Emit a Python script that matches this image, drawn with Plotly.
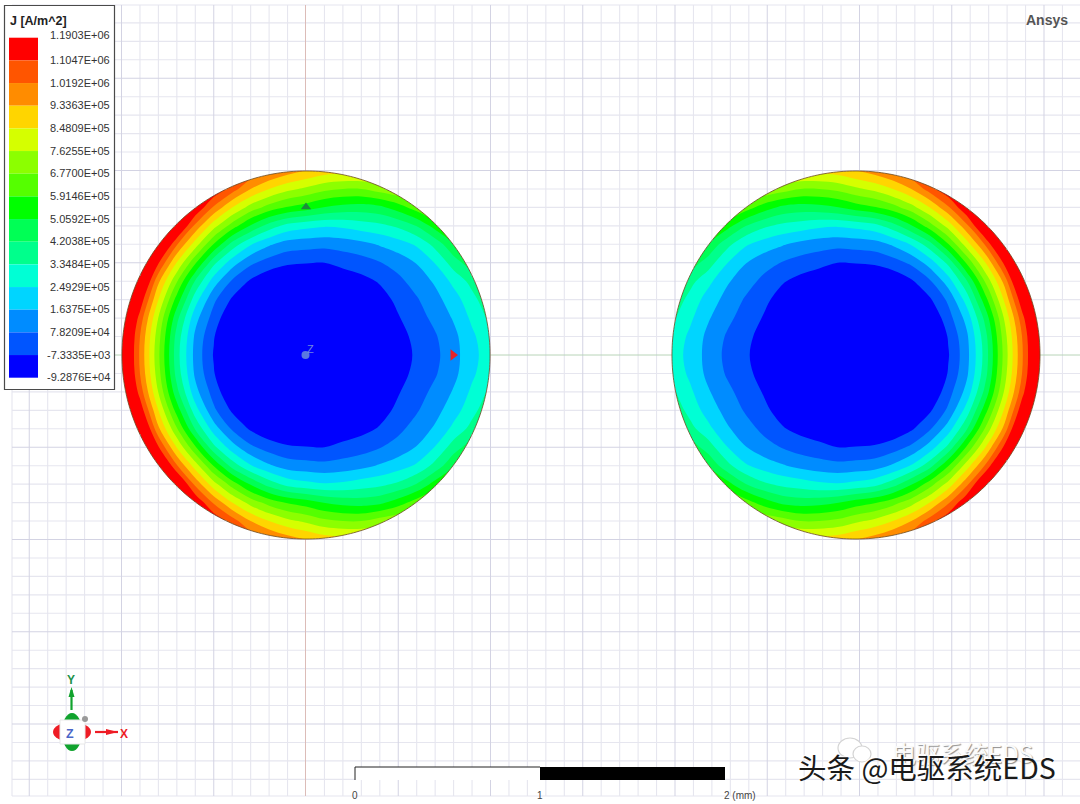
import numpy as np
import plotly.graph_objects as go

# ---------- data ----------
legend_title = "J [A/m^2]"
legend_labels = ["1.1903E+06", "1.1047E+06", "1.0192E+06", "9.3363E+05", "8.4809E+05", "7.6255E+05",
                 "6.7700E+05", "5.9146E+05", "5.0592E+05", "4.2038E+05", "3.3484E+05", "2.4929E+05",
                 "1.6375E+05", "7.8209E+04", "-7.3335E+03", "-9.2876E+04"]
band_colors = ["#0000ff", "#0055ff", "#008cff", "#00d5ff", "#00ffd5", "#00ff8c", "#00ff55", "#00ff00",
               "#55ff00", "#8cff00", "#d5ff00", "#ffd500", "#ff8c00", "#ff5500", "#ff0000"]
level_values = [float(s) for s in reversed(legend_labels)]

grid_mm = [-1.1, -1.0, -0.9, -0.8, -0.7, -0.6, -0.5, -0.4, -0.3, -0.2, -0.1, 0.0,
           0.1, 0.2, 0.3, 0.4, 0.5, 0.6, 0.7, 0.8, 0.9, 1.0, 1.1]
# Position on the legend scale (0 = lowest label, 15 = highest) for the left wire, rows y = 0 ... 1.1 mm.
# Nodes inside the lowest band or outside the wire only steer where the band edges fall.
wire_upper = [
 [17,16.4,12.85,9.2,5.4,2.65,.92,-.75,-2,-2,-2,-2,-1.5,-1.3,-.7,-.1,.52,1.15,1.75,2.65,3.65,4.6,5.5],
 [17,16.5,13,9.4,5.6,2.8,1.08,-.55,-2,-2,-2,-2,-2,-1.5,-.85,-.18,.6,1.3,1.9,2.72,3.8,4.75,5.7],
 [17,17,13.6,9.95,6.3,3.35,1.57,.04,-1.4,-2,-2,-2,-2,-1.7,-.6,.2,.92,1.6,2.25,3.1,4.2,5.25,6.4],
 [17,17,14.7,11,7.56,4.42,2.2,.85,-.32,-1.2,-1.8,-1.4,-1.25,-.8,-.2,.58,1.24,1.9,2.65,3.55,4.65,5.8,7],
 [17,17,16.2,12.2,9.1,5.9,3.5,1.86,.85,.2,-.12,-.17,-.1,.32,.67,1.1,1.75,2.42,3.15,4.27,5.35,6.55,8],
 [17,17,17,14.1,10.95,8.15,5.27,3.45,2.2,1.55,1.16,1.05,1.0,1.3,1.55,1.95,2.4,3.05,4.05,5.5,6.6,7.9,9.5],
 [17,17,17,16.3,13.1,10.5,7.95,5.6,4.08,3.14,2.55,2.4,2.3,2.45,2.7,3.1,3.55,4.15,5.35,6.85,8.3,9.5,11],
 [17,17,17,17,15.7,12.75,10.4,8.55,6.9,5.55,4.65,4.3,4.1,4.2,4.5,4.75,5.2,6.05,7.43,8.7,10,11,12],
 [17,17,17,17,16.5,15,12.85,11,9.6,8.6,7.9,7.5,6.95,6.65,6.55,6.75,7.5,8.5,9.5,10.6,12,13,14],
 [17,17,17,17,16.5,15.6,14.9,13.5,12,11,10.27,9.8,9.25,9,9,9.5,9.95,10.4,11.2,12,13,14,14.5],
 [17,17,17,16.5,16,15.5,15.2,14.7,13.9,13.2,12.5,12,11.55,11.4,11.4,11.5,12,12.5,13,13.5,14,14.5,14.5],
 [17,17,17,16.6,16.3,16,15.7,15.5,15.3,15,14.4,14,13.5,13.2,13,13,13.2,13.5,14,14,14.5,14.5,14.5],
]
second_wire_center_mm = 2.981
wire_radius_mm = 0.9975
scale_ticks = ["0", "1", "2 (mm)"]
watermark = "头条 @电驱系统EDS"
watermark_ghost = "电驱系统EDS"
brand = "Ansys"

# ---------- geometry ----------
W, H = 1080, 804
PX_PER_MM, X0, Y0 = 184.5, 306.0, 355.0
def mx(px): return (px - X0) / PX_PER_MM
def my(py): return (Y0 - py) / PX_PER_MM

u = np.array(wire_upper[::-1] + wire_upper[1:], dtype=float)
step = (level_values[-1] - level_values[0]) / 15
J = level_values[0] + u * step
ys = np.array([-g for g in grid_mm[11:][::-1]] + grid_mm[12:])
xs = np.array(grid_mm)
scale = [[i / 14, c] for i, c in enumerate(band_colors)]

fig = go.Figure()
def contour(x, z):
    return go.Contour(x=x, y=ys, z=z, colorscale=scale, showscale=False, hoverinfo="skip",
                      contours=dict(start=level_values[0] + step, end=level_values[0] + 14 * step,
                                    size=step, coloring="fill"),
                      line=dict(width=0))
fig.add_trace(contour(xs, J))
fig.add_trace(contour(xs + second_wire_center_mm, J[:, ::-1]))

# probes inside the left wire
fig.add_trace(go.Scatter(x=[mx(453)], y=[my(355)], mode="markers", hoverinfo="skip",
                         marker=dict(symbol="triangle-right", size=10, color="#e8202a")))
fig.add_trace(go.Scatter(x=[mx(306)], y=[my(207)], mode="markers", hoverinfo="skip",
                         marker=dict(symbol="triangle-up", size=9, color="#1f8a3c")))
fig.add_trace(go.Scatter(x=[mx(305.5)], y=[my(355)], mode="markers", hoverinfo="skip",
                         marker=dict(symbol="circle", size=8, color="#5a78e0")))

shapes = []
t = np.linspace(0, 2 * np.pi, 361)
def ring(cx):
    xx = cx + wire_radius_mm * np.cos(t)
    yy = wire_radius_mm * np.sin(t)
    return "M" + "L".join(f"{a:.4f},{b:.4f}" for a, b in zip(xx, yy)) + "Z"

# white page with two round windows
xl, xr, yt, yb = mx(0), mx(W), my(0), my(H)
mask = f"M{xl},{yb}L{xr},{yb}L{xr},{yt}L{xl},{yt}Z" + ring(0) + ring(second_wire_center_mm)
shapes.append(dict(type="path", path=mask, fillcolor="white", line=dict(width=0), layer="above"))

# drawing grid, stopped at the wires
centers = [0.0, second_wire_center_mm]
def vsegs(x, y0, y1):
    pieces = [(y0, y1)]
    for c in centers:
        if abs(x - c) < wire_radius_mm:
            h = (wire_radius_mm ** 2 - (x - c) ** 2) ** 0.5
            new = []
            for a, b in pieces:
                if a < -h: new.append((a, min(b, -h)))
                if b > h: new.append((max(a, h), b))
            pieces = new
    return "".join(f"M{x:.4f},{a:.4f}L{x:.4f},{b:.4f}" for a, b in pieces)
def hsegs(y, x0, x1):
    pieces = [(x0, x1)]
    for c in centers:
        if abs(y) < wire_radius_mm:
            h = (wire_radius_mm ** 2 - y ** 2) ** 0.5
            new = []
            for a, b in pieces:
                if a < c - h: new.append((a, min(b, c - h)))
                if b > c + h: new.append((max(a, c + h), b))
            pieces = new
    return "".join(f"M{a:.4f},{y:.4f}L{b:.4f},{y:.4f}" for a, b in pieces)

gx0, gx1, gy1, gy0 = mx(12), mx(1080), my(5), my(796)
minor, major = "", ""
for k in range(-16, 43):
    x = k / 10
    if gx0 <= x <= gx1 and k != 0:
        s = vsegs(x, gy0, gy1)
        if k % 5 == 0: major += s
        else: minor += s
for k in range(-24, 20):
    y = k / 10
    if gy0 <= y <= gy1 and k != 0:
        s = hsegs(y, gx0, gx1)
        if k % 5 == 0: major += s
        else: minor += s
minor += vsegs(gx0, gy0, gy1) + hsegs(gy0, gx0, gx1) + hsegs(gy1, gx0, gx1)
shapes.append(dict(type="path", path=minor, line=dict(color="#e6e6ef", width=1.1), layer="above"))
shapes.append(dict(type="path", path=major, line=dict(color="#d3d3e3", width=1), layer="above"))

# model axes
shapes.append(dict(type="path", path=vsegs(mx(305.5), my(796), my(5)), line=dict(color="#dcbcb8", width=1), layer="above"))
shapes.append(dict(type="path", path=hsegs(0.0, mx(12), mx(1080)), line=dict(color="#b8d4b8", width=1), layer="above"))
# wire outlines
for c in centers:
    shapes.append(dict(type="path", path=ring(c), line=dict(color="#6b4a22", width=0.8), layer="above"))

def rect(x0, y0, x1, y1, fill, line=None, w=0):
    return dict(type="rect", x0=mx(x0), x1=mx(x1), y0=my(y0), y1=my(y1), fillcolor=fill, layer="above",
                line=dict(color=line or fill, width=w))
def seg(x0, y0, x1, y1, color, w=1):
    return dict(type="line", x0=mx(x0), x1=mx(x1), y0=my(y0), y1=my(y1), layer="above", line=dict(color=color, width=w))

annotations = []
def text(px, py, s, size, color, anchor="center", bold=False, family="Liberation Sans", **kw):
    annotations.append(dict(x=mx(px), y=my(py), text=f"<b>{s}</b>" if bold else s, showarrow=False,
                            xanchor=anchor, yanchor="middle", font=dict(size=size, color=color, family=family, **kw)))

# legend
shapes.append(rect(4.5, 5.5, 114.5, 389.5, "white", "#4a4a4a", 1.2))
top, bot = 37.7, 377.7
dh = (bot - top) / 15
for i, c in enumerate(reversed(band_colors)):
    shapes.append(rect(9, top + i * dh, 38, top + (i + 1) * dh, c))
for i, s in enumerate(legend_labels):
    text(112, top + i * dh - (2.5 if i == 0 else 0.5), s, 11, "#333333", anchor="right")
text(8, 21, legend_title, 12.5, "#222222", anchor="left", bold=True)
text(1070, 20, brand, 14, "#555555", anchor="right", bold=True)
text(310, 349, "Z", 11, "#6f86e0")

# orientation triad
shapes.append(dict(type="circle", x0=mx(53), x1=mx(91), y0=my(722), y1=my(742), fillcolor="#ee1c25", line=dict(width=0), layer="above"))
shapes.append(dict(type="circle", x0=mx(62), x1=mx(82), y0=my(713), y1=my(751), fillcolor="#11a32e", line=dict(width=0), layer="above"))
shapes.append(rect(60, 720, 85, 744, "white", "#e8e8e8", 1))
shapes.append(dict(type="circle", x0=mx(82), x1=mx(88), y0=my(716), y1=my(722), fillcolor="#9a9a9a", line=dict(width=0), layer="above"))
shapes.append(seg(71.5, 710, 71.5, 690, "#11a32e", 2.2))
shapes.append(seg(95, 732, 118, 732, "#ee1c25", 2.2))
shapes.append(dict(type="path", layer="above", fillcolor="#11a32e", line=dict(width=0),
                   path=f"M{mx(68.5)},{my(697)}L{mx(74.5)},{my(697)}L{mx(71.5)},{my(687)}Z"))
shapes.append(dict(type="path", layer="above", fillcolor="#ee1c25", line=dict(width=0),
                   path=f"M{mx(106)},{my(729)}L{mx(106)},{my(735)}L{mx(118)},{my(732)}Z"))
text(70.5, 680, "Y", 12, "#22914a", bold=True)
text(124, 734, "X", 12, "#ee1c25", bold=True)
text(70, 734, "Z", 12.5, "#4a66c8", bold=True)

# scale bar
shapes.append(rect(355, 767, 540, 780, "white"))
shapes.append(rect(540, 767, 725, 780, "black"))
shapes.append(seg(355, 767, 540, 767, "#222222", 1))
shapes.append(seg(355, 767, 355, 780, "#222222", 1))
text(355, 795, scale_ticks[0], 10, "#444444")
text(540, 795, scale_ticks[1], 10, "#444444")
text(722, 795, scale_ticks[2], 10, "#444444", anchor="left")

# watermark
shapes.append(dict(type="circle", x0=mx(838), x1=mx(862), y0=my(738), y1=my(758), fillcolor="white", line=dict(color="#d4d4d4", width=1.2), layer="above"))
shapes.append(dict(type="circle", x0=mx(853), x1=mx(871), y0=my(746), y1=my(762), fillcolor="white", line=dict(color="#d4d4d4", width=1.2), layer="above"))
text(890, 752, watermark_ghost, 24, "#fbfbfb", anchor="left", family="Noto Sans CJK SC", shadow="1px 1px 1px #8f8f8f")
text(796, 766, watermark, 28.5, "#1a1a1a", anchor="left", family="Noto Sans CJK SC", shadow="-1px -1px 1px #ffffff")

fig.update_layout(width=W, height=H, margin=dict(l=0, r=0, t=0, b=0), showlegend=False,
                  paper_bgcolor="white", plot_bgcolor="white", shapes=shapes, annotations=annotations,
                  xaxis=dict(range=[xl, xr], visible=False, fixedrange=True),
                  yaxis=dict(range=[yb, yt], visible=False, fixedrange=True))
fig.write_html("out.html", post_script="document.body.style.margin='0';document.body.style.overflow='hidden';",
               config=dict(displayModeBar=False))
